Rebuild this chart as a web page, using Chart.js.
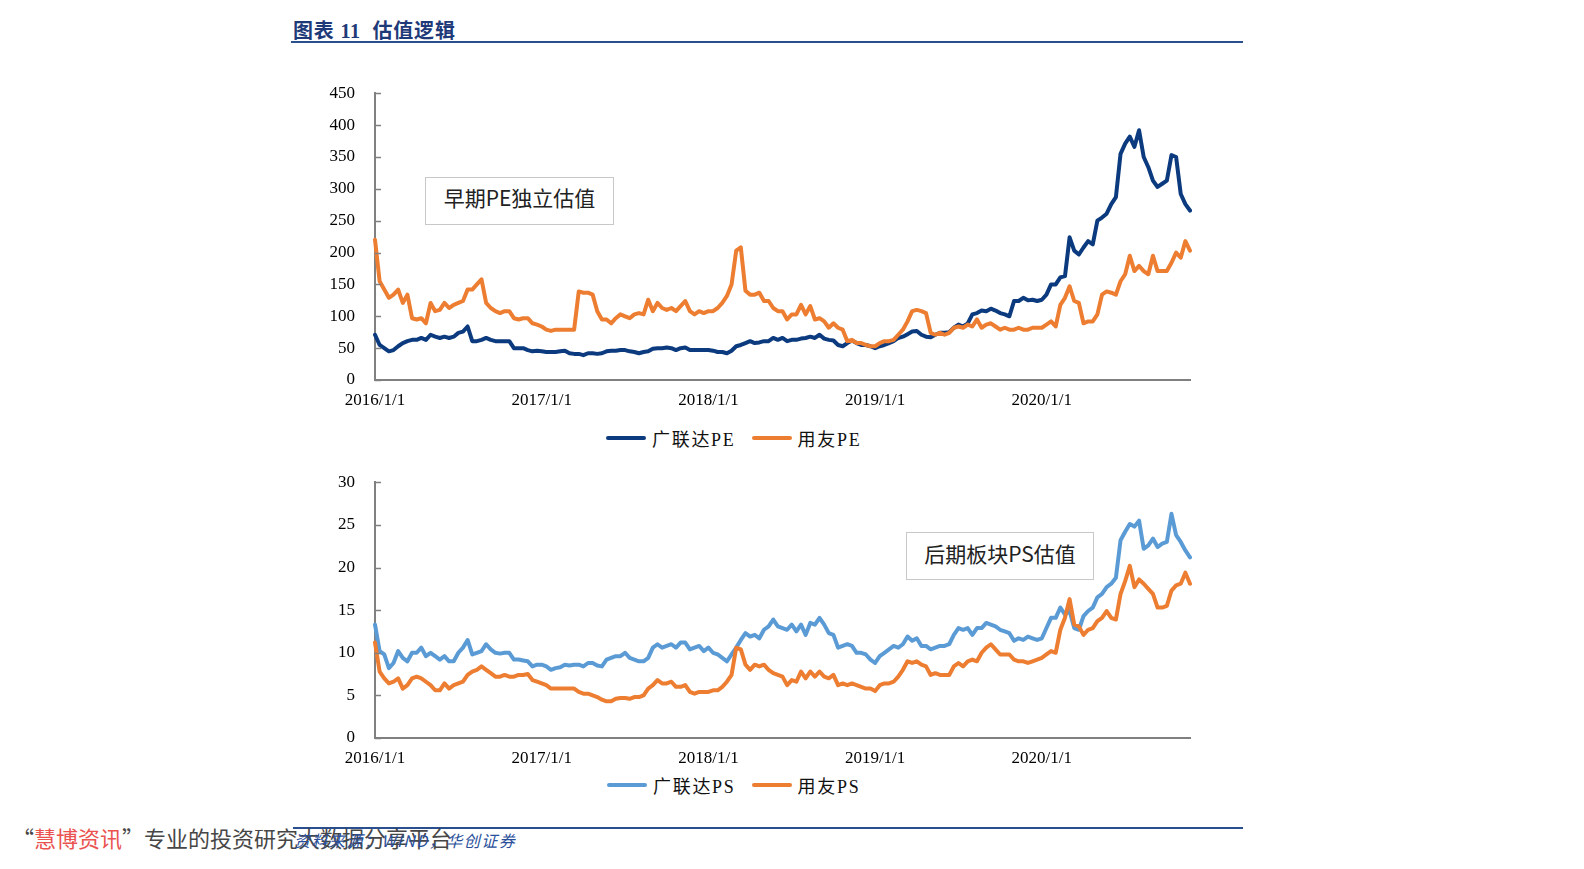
<!DOCTYPE html>
<html><head><meta charset="utf-8">
<script src="https://cdn.jsdelivr.net/npm/chart.js@4/dist/chart.umd.min.js"></script>
<style>
html,body{margin:0;padding:0;background:#fff;}
body{width:1584px;height:869px;position:relative;overflow:hidden;font-family:"Liberation Serif","Noto Sans CJK SC",serif;}
.abs{position:absolute;}
#title{left:293px;top:15px;font-size:20px;font-weight:bold;color:#1f3a78;white-space:nowrap;letter-spacing:0.8px;}
#tline{left:291px;top:41px;width:952px;height:2px;background:#2a4f8f;}
#fline{left:293px;top:827px;width:950px;height:2px;background:#2a4f8f;}
#src{left:294px;top:828px;font-size:16px;font-style:italic;color:#2a4f9a;white-space:nowrap;font-family:"Noto Sans CJK SC",sans-serif;letter-spacing:1.5px;}
#wm{left:12px;top:821px;font-size:22px;color:#333;white-space:nowrap;font-family:"Noto Sans CJK SC",sans-serif;opacity:0.9;}
#wm span{color:#e8413c;}
canvas{position:absolute;}
.box{position:absolute;border:1.5px solid #c8c8c8;background:#fff;font-family:"Noto Sans CJK SC",sans-serif;font-size:21px;color:#222;display:flex;align-items:center;justify-content:center;box-sizing:border-box;padding-bottom:8px;}
.leg{position:absolute;display:flex;align-items:center;font-size:18px;color:#111;white-space:nowrap;font-family:"Liberation Serif","Noto Sans CJK SC",serif;}
.leg i{display:inline-block;width:40px;height:4px;border-radius:2px;margin-right:6px;}
.leg b{font-weight:normal;margin-right:16px;letter-spacing:1.7px;}
</style></head>
<body>
<div id="title" class="abs">图表 11&nbsp;&nbsp;估值逻辑</div>
<div id="tline" class="abs"></div>
<canvas id="c1" width="910" height="345" style="left:300px;top:70px;"></canvas>
<canvas id="c2" width="910" height="310" style="left:300px;top:460px;"></canvas>
<div class="box" style="left:425px;top:177px;width:189px;height:48px;">早期PE独立估值</div>
<div class="box" style="left:906px;top:532px;width:188px;height:48px;padding-bottom:6px;">后期板块PS估值</div>
<div class="leg" style="left:606px;top:425px;"><i style="background:#0b3a7e"></i><b>广联达PE</b><i style="background:#ed7d31"></i><b>用友PE</b></div>
<div class="leg" style="left:607px;top:772px;"><i style="background:#5b9bd5"></i><b>广联达PS</b><i style="background:#ed7d31"></i><b>用友PS</b></div>
<div id="fline" class="abs"></div>
<div id="wm" class="abs">“<span>慧博资讯</span>”专业的投资研究大数据分享平台</div>
<div id="src" class="abs">资料来源：WIND，华创证券</div>
<script>
const tickLabels = ['2016/1/1','2017/1/1','2018/1/1','2019/1/1','2020/1/1'];
const peTicks = [0,50,100,150,200,250,300,350,400,450];
const psTicks = [0,5,10,15,20,25,30];

const gldPE = [71,55,50,45,47,53,58,61,63,63,
66,63,71,68,66,68,66,68,74,76,
84,61,61,63,66,63,61,61,61,61,
50,50,50,47,45,46,45,44,44,44,
45,46,42,41,41,39,42,42,41,42,
45,46,46,47,47,45,44,42,44,45,
49,50,50,51,50,47,50,51,47,47,
47,47,47,46,44,44,42,46,53,55,
58,61,58,59,61,61,66,63,66,61,
63,63,65,66,68,66,71,65,63,62,
55,53,58,62,58,55,55,53,50,53,
55,58,61,66,68,72,76,77,71,68,
67,71,74,74,75,82,87,84,89,103,
105,109,108,112,109,105,103,100,124,124,
129,125,126,124,126,134,150,150,161,163,
224,203,197,208,218,213,250,255,261,276,
287,355,371,382,366,392,350,334,313,303,
308,313,353,350,292,276,266];

const yyPE = [220,155,142,129,134,142,121,134,97,95,
97,89,121,108,110,121,113,118,121,124,
142,142,150,158,121,113,108,105,108,108,
97,95,97,97,89,87,84,79,77,79,
79,79,79,79,139,137,137,134,108,95,
95,89,97,103,100,97,103,105,103,126,
108,121,113,110,113,108,116,124,108,103,
108,105,108,108,113,121,132,150,203,208,
140,134,134,137,124,124,113,108,108,95,
103,103,118,103,116,95,97,92,82,89,
82,79,61,63,58,58,55,53,53,58,
61,61,63,71,79,92,108,110,108,105,
74,71,74,71,74,82,84,82,87,84,
95,82,87,89,84,79,82,79,79,82,
79,79,82,82,82,87,92,84,118,129,
147,124,121,89,92,92,103,134,139,137,
134,155,166,195,171,179,171,166,195,171,
171,171,184,200,192,218,203];

const gldPS = [13.3,10.2,9.8,8.2,8.8,10.2,9.4,9.0,10.0,10.0,
10.6,9.6,10.0,9.6,9.2,9.6,9.0,9.0,10.0,10.6,
11.5,9.8,10.0,10.2,11.0,10.4,10.0,9.9,10.0,10.0,
9.2,9.2,9.1,9.0,8.4,8.6,8.6,8.4,8.0,8.2,
8.3,8.6,8.5,8.6,8.6,8.4,8.8,8.8,8.5,8.4,
9.2,9.4,9.6,9.6,10.0,9.4,9.2,9.0,9.0,9.4,
10.6,11.0,10.6,10.8,11.0,10.6,11.2,11.2,10.4,10.6,
10.8,10.2,10.6,10.0,9.8,9.4,9.0,9.8,10.6,11.5,
12.3,11.9,12.1,11.7,12.7,13.1,13.9,13.1,12.9,12.7,
13.3,12.5,13.3,12.1,13.5,13.3,14.1,13.3,12.3,12.1,
10.6,10.8,11.0,10.8,10.0,10.0,9.8,9.2,8.8,9.6,
10.0,10.4,10.8,10.6,11.0,11.9,11.4,11.7,10.8,10.8,
10.4,10.6,10.8,10.8,11.0,12.1,12.9,12.7,12.9,12.1,
12.9,12.9,13.5,13.3,13.1,12.7,12.5,12.3,11.4,11.7,
11.5,11.9,11.7,11.5,11.7,12.9,14.1,14.1,15.3,14.5,
14.9,12.9,12.7,14.3,14.9,15.3,16.5,16.9,17.7,18.1,
18.8,23.2,24.2,25.1,24.8,25.5,22.2,22.6,23.4,22.4,
22.8,23.0,26.3,23.8,23.0,22.0,21.2];

const yyPS = [11.2,7.8,7.0,6.4,6.6,7.0,5.8,6.2,7.0,7.2,
7.0,6.6,6.2,5.6,5.6,6.4,5.8,6.2,6.4,6.6,
7.4,7.8,8.0,8.4,8.0,7.6,7.2,7.2,7.4,7.2,
7.2,7.4,7.4,7.5,6.8,6.6,6.4,6.2,5.8,5.8,
5.8,5.8,5.8,5.8,5.4,5.2,5.2,5.0,4.8,4.5,
4.3,4.3,4.6,4.7,4.7,4.6,4.8,4.8,5.0,5.8,
6.2,6.8,6.4,6.4,6.6,6.0,6.0,6.2,5.4,5.2,
5.4,5.4,5.4,5.6,5.6,6.0,6.6,7.4,10.6,10.4,
8.6,8.0,8.6,8.4,8.6,8.0,7.6,7.4,7.2,6.2,
6.8,6.6,7.8,7.0,7.8,7.2,7.8,7.2,7.0,7.4,
6.2,6.4,6.2,6.4,6.2,6.0,5.8,5.8,5.5,6.2,
6.4,6.4,6.6,7.2,8.0,9.0,8.8,9.0,8.6,8.4,
7.4,7.6,7.4,7.4,7.4,8.4,8.8,8.4,9.0,9.2,
9.0,10.0,10.6,11.0,10.4,9.8,9.8,9.8,9.2,9.0,
9.0,8.8,9.0,9.2,9.4,9.8,10.2,10.0,12.7,14.1,
16.3,13.3,13.1,12.1,12.7,12.9,13.7,14.1,14.9,14.1,
13.9,16.9,18.4,20.2,17.7,18.6,18.1,17.5,16.9,15.3,
15.3,15.5,17.3,17.9,18.1,19.4,18.1];

// dates: 1st, 11th, 21st of each month from 2016/1/1
const dates = gldPE.map((_, i) => {
  const y = 2016 + Math.floor(i / 36);
  const m = Math.floor((i % 36) / 3) + 1;
  const d = [1, 11, 21][i % 3];
  return y + '/' + m + '/' + d;
});

const tickMarks = {
  id: 'tickMarks',
  afterDraw(chart) {
    const ctx = chart.ctx, s = chart.scales.y, a = chart.chartArea;
    ctx.save();
    ctx.strokeStyle = '#808080';
    ctx.lineWidth = 1.5;
    s.ticks.forEach(t => {
      const y = Math.round(s.getPixelForValue(t.value)) + 0.5;
      ctx.beginPath();
      ctx.moveTo(a.left, y);
      ctx.lineTo(a.left + 6, y);
      ctx.stroke();
    });
    ctx.restore();
  }
};

function makeChart(id, ds, ymax, step, padTop, xH) {
  return new Chart(document.getElementById(id), {
    type: 'line',
    data: { labels: dates, datasets: ds },
    options: {
      responsive: false, animation: false, devicePixelRatio: 1,
      layout: { padding: { top: padTop, right: 20, left: 0, bottom: 0 } },
      plugins: { legend: { display: false }, tooltip: { enabled: false } },
      elements: { point: { radius: 0 }, line: { tension: 0, borderJoinStyle: 'round', borderCapStyle: 'round' } },
      scales: {
        x: {
          type: 'category', offset: false,
          grid: { display: false, drawTicks: false },
          border: { display: true, color: '#808080', width: 2 },
          ticks: {
            autoSkip: false, maxRotation: 0, minRotation: 0, padding: 10,
            color: '#000', font: { family: 'Liberation Serif', size: 17 },
            callback(v) { const l = this.getLabelForValue(v); return tickLabels.includes(l) ? l : ''; }
          },
          afterFit(s) { s.height = xH; }
        },
        y: {
          min: 0, max: ymax,
          grid: { display: false, drawTicks: false },
          border: { display: true, color: '#808080', width: 2 },
          ticks: { stepSize: step, padding: 20, color: '#000', font: { family: 'Liberation Serif', size: 17 } },
          afterFit(s) { s.width = 75; s.paddingTop = 0; s.paddingBottom = 0; }
        }
      }
    },
    plugins: [tickMarks]
  });
}

makeChart('c1', [
  { label: '广联达PE', data: gldPE, borderColor: '#0b3a7e', borderWidth: 4, order: 1 },
  { label: '用友PE', data: yyPE, borderColor: '#ed7d31', borderWidth: 4, order: 0 }
], peTicks[peTicks.length - 1], peTicks[1], 23.3, 35);

makeChart('c2', [
  { label: '广联达PS', data: gldPS, borderColor: '#5b9bd5', borderWidth: 4, order: 1 },
  { label: '用友PS', data: yyPS, borderColor: '#ed7d31', borderWidth: 4, order: 0 }
], psTicks[psTicks.length - 1], psTicks[1], 22.3, 32);
</script>
</body></html>
